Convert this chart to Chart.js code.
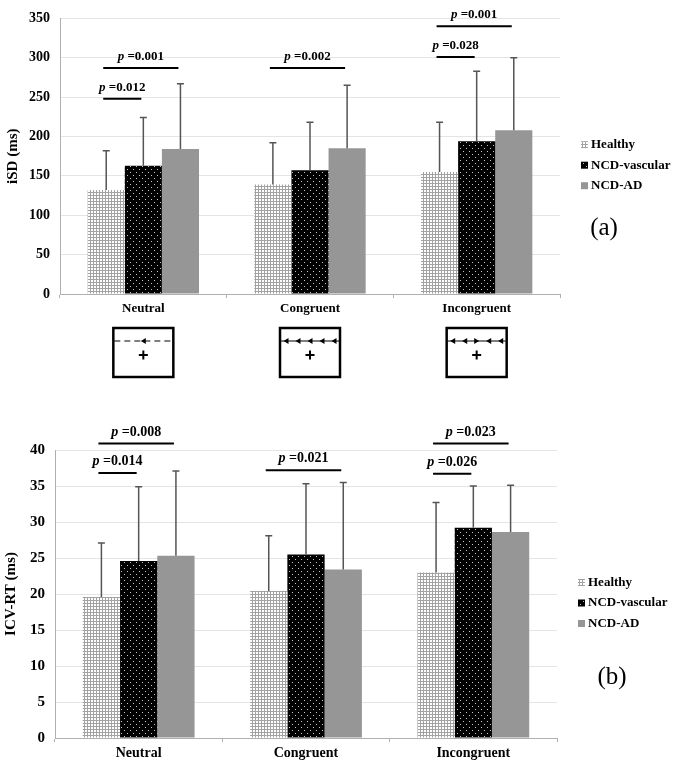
<!DOCTYPE html>
<html lang="en">
<head>
    <meta charset="UTF-8">
    <title>iSD and ICV-RT by group and condition</title>
    <script src="https://cdn.jsdelivr.net/npm/chart.js"></script>
    <style>
        body { margin: 0; background: #fff; }
        #wrap { position: relative; width: 675px; height: 762px; }
        canvas { position: absolute; left: 0; }
        #chartA { top: 0; }
        #chartB { top: 390px; }
    </style>
</head>
<body>
<div id="wrap">
    <canvas id="chartA" width="675" height="390"></canvas>
    <canvas id="chartB" width="675" height="372"></canvas>
</div>
<script>
    // ---- data ----
    const conditions = ['Neutral', 'Congruent', 'Incongruent'];
    const groups = ['Healthy', 'NCD-vascular', 'NCD-AD'];

    // (a) iSD (ms): means and SD per condition
    const isdHealthy = [132, 139, 155];
    const isdVascular = [163, 157, 194];
    const isdAD = [184, 185, 208];
    const isdHealthySD = [50, 53, 63];
    const isdVascularSD = [61, 61, 89];
    const isdADSD = [83, 80, 92];
    const isdTicks = { min: 0, max: 350, step: 50 };
    // [condition, group a, group b, bar level, p]
    const isdPairs = [
        [0, 0, 2, 287, '0.001'],
        [0, 0, 1, 248, '0.012'],
        [1, 0, 2, 287, '0.002'],
        [2, 0, 2, 340, '0.001'],
        [2, 0, 1, 301, '0.028']
    ];

    // (b) ICV-RT (ms)
    const icvHealthy = [19.6, 20.4, 23.0];
    const icvVascular = [24.6, 25.5, 29.2];
    const icvAD = [25.3, 23.4, 28.6];
    const icvHealthySD = [7.5, 7.7, 9.7];
    const icvVascularSD = [10.3, 9.8, 5.8];
    const icvADSD = [11.8, 12.1, 6.5];
    const icvTicks = { min: 0, max: 40, step: 5 };
    const icvPairs = [
        [0, 0, 2, 40.9, '0.008'],
        [0, 0, 1, 36.8, '0.014'],
        [1, 0, 2, 37.2, '0.021'],
        [2, 0, 2, 40.9, '0.023'],
        [2, 0, 1, 36.7, '0.026']
    ];

    // flanker displays under panel (a): '<' left arrow, '>' right arrow, '-' dash
    const stimuli = ['--<--', '<<<<<', '<<><<'];

    const SERIF = '"Liberation Serif", "Times New Roman", serif';
    Chart.defaults.font.family = SERIF;
    Chart.defaults.color = '#000';

    // ---- fill patterns ----
    function makePattern(size, draw) {
        const c = document.createElement('canvas');
        c.width = size; c.height = size;
        draw(c.getContext('2d'));
        return c.getContext('2d').createPattern(c, 'repeat');
    }
    const gridFill = makePattern(3, g => {
        g.fillStyle = '#fff'; g.fillRect(0, 0, 3, 3);
        g.fillStyle = '#a2a2a2'; g.fillRect(0, 0, 3, 1); g.fillRect(0, 0, 1, 3);
    });
    const dotFill = makePattern(6, g => {
        g.fillStyle = '#000'; g.fillRect(0, 0, 6, 6);
        g.fillStyle = '#c4c4c4'; g.fillRect(1, 1, 1, 1); g.fillRect(4, 4, 1, 1);
    });
    const greyFill = '#969696';

    // ---- plugins ----
    const errorBars = {
        id: 'errorBars',
        afterDatasetsDraw(chart) {
            const { ctx } = chart;
            const y = chart.scales.y;
            ctx.save();
            ctx.strokeStyle = '#555';
            ctx.lineWidth = 1.5;
            chart.data.datasets.forEach((ds, i) => {
                chart.getDatasetMeta(i).data.forEach((bar, j) => {
                    const top = y.getPixelForValue(ds.data[j] + ds.sd[j]);
                    ctx.beginPath();
                    ctx.moveTo(bar.x, bar.y);
                    ctx.lineTo(bar.x, top);
                    ctx.moveTo(bar.x - 3.5, top);
                    ctx.lineTo(bar.x + 3.5, top);
                    ctx.stroke();
                });
            });
            ctx.restore();
        }
    };

    const sigBars = {
        id: 'sigBars',
        afterDraw(chart, args, opts) {
            const { ctx } = chart;
            const y = chart.scales.y;
            const italic = 'italic bold ' + opts.size + 'px ' + SERIF;
            const bold = 'bold ' + opts.size + 'px ' + SERIF;
            ctx.save();
            opts.pairs.forEach(([c, g1, g2, level, p]) => {
                const x1 = chart.getDatasetMeta(g1).data[c].x - 3;
                const x2 = chart.getDatasetMeta(g2).data[c].x - 2;
                const yy = y.getPixelForValue(level);
                ctx.strokeStyle = '#000';
                ctx.lineWidth = 2;
                ctx.beginPath();
                ctx.moveTo(x1, yy);
                ctx.lineTo(x2, yy);
                ctx.stroke();

                ctx.fillStyle = '#000';
                ctx.textBaseline = 'alphabetic';
                ctx.font = italic;
                const w1 = ctx.measureText('p ').width;
                ctx.font = bold;
                const w2 = ctx.measureText('=' + p).width;
                const x = (x1 + x2) / 2 - (w1 + w2) / 2;
                ctx.font = italic;
                ctx.fillText('p ', x, yy - 8);
                ctx.font = bold;
                ctx.fillText('=' + p, x + w1, yy - 8);
            });
            ctx.restore();
        }
    };

    const sideLegend = {
        id: 'sideLegend',
        afterDraw(chart, args, opts) {
            const { ctx, chartArea } = chart;
            const mid = (chartArea.top + chartArea.bottom) / 2 + 9;
            const left = chartArea.right + opts.dx;
            ctx.save();
            ctx.font = 'bold 13px ' + SERIF;
            ctx.textBaseline = 'middle';
            chart.data.datasets.forEach((ds, i) => {
                const yy = mid + (i - 1) * 20.5;
                ctx.fillStyle = ds.backgroundColor;
                ctx.fillRect(left, yy - 3.5, 7, 7);
                ctx.fillStyle = '#000';
                ctx.fillText(ds.label, left + 10, yy);
            });
            ctx.font = '25px ' + SERIF;
            ctx.textAlign = 'center';
            ctx.fillText(opts.tag, opts.tagX, opts.tagY);
            ctx.restore();
        }
    };

    function arrowHead(ctx, x, y, dir) {
        ctx.beginPath();
        ctx.moveTo(x - 2.5 * dir, y);
        ctx.lineTo(x + 2.5 * dir, y - 3);
        ctx.lineTo(x + 2.5 * dir, y + 3);
        ctx.closePath();
        ctx.fill();
    }

    const stimulusIcons = {
        id: 'stimulusIcons',
        afterDraw(chart, args, opts) {
            if (!opts.items) return;
            const { ctx, chartArea } = chart;
            const xs = chart.scales.x;
            const w = 60, h = 49;
            const top = chartArea.bottom + 34;
            ctx.save();
            ctx.strokeStyle = '#000';
            ctx.fillStyle = '#000';
            opts.items.forEach((s, i) => {
                const cx = xs.getPixelForValue(i);
                const left = cx - w / 2;
                ctx.lineWidth = 2.5;
                ctx.strokeRect(left, top, w, h);

                const ly = top + 13;
                const dashed = s.indexOf('-') >= 0;
                ctx.lineWidth = 1.2;
                ctx.setLineDash(dashed ? [6, 4] : []);
                ctx.beginPath();
                ctx.moveTo(left + 1, ly);
                ctx.lineTo(left + w - 1, ly);
                ctx.stroke();
                ctx.setLineDash([]);
                s.split('').forEach((ch, k) => {
                    const px = left + 6 + k * 12;
                    if (ch === '<') arrowHead(ctx, px, ly, 1);
                    if (ch === '>') arrowHead(ctx, px, ly, -1);
                });

                const fy = top + 27;
                ctx.lineWidth = 2;
                ctx.beginPath();
                ctx.moveTo(cx - 4.5, fy); ctx.lineTo(cx + 4.5, fy);
                ctx.moveTo(cx, fy - 4.5); ctx.lineTo(cx, fy + 4.5);
                ctx.stroke();
            });
            ctx.restore();
        }
    };

    // ---- chart builder ----
    function buildChart(id, cfg) {
        const boldFont = size => ({ family: SERIF, weight: 'bold', size: size });
        return new Chart(document.getElementById(id), {
            type: 'bar',
            data: {
                labels: conditions,
                datasets: [
                    { label: groups[0], data: cfg.values[0], sd: cfg.sds[0], backgroundColor: gridFill },
                    { label: groups[1], data: cfg.values[1], sd: cfg.sds[1], backgroundColor: dotFill },
                    { label: groups[2], data: cfg.values[2], sd: cfg.sds[2], backgroundColor: greyFill }
                ]
            },
            options: {
                responsive: false,
                animation: false,
                events: [],
                layout: { padding: { top: cfg.top, right: cfg.right, left: 0, bottom: 0 } },
                datasets: { bar: { categoryPercentage: 0.668, barPercentage: 1 } },
                plugins: {
                    legend: { display: false },
                    tooltip: { enabled: false },
                    sigBars: { pairs: cfg.pairs, size: cfg.pSize },
                    sideLegend: { dx: 21, tag: cfg.tag, tagX: cfg.tagX, tagY: cfg.tagY },
                    stimulusIcons: { items: cfg.stimuli }
                },
                scales: {
                    x: {
                        grid: { offset: true, drawOnChartArea: false, tickLength: 4, color: '#b0b0b0' },
                        border: { color: '#b0b0b0' },
                        ticks: { font: boldFont(cfg.catSize), color: '#000', padding: 3 },
                        afterFit: s => { s.height = cfg.xHeight; }
                    },
                    y: {
                        min: cfg.ticks.min,
                        max: cfg.ticks.max,
                        ticks: { stepSize: cfg.ticks.step, font: boldFont(cfg.tickSize), color: '#000', padding: 10 },
                        grid: { color: '#e4e4e4', drawTicks: false },
                        border: { color: '#b0b0b0' },
                        title: {
                            display: true,
                            text: cfg.title,
                            font: boldFont(15),
                            color: '#000',
                            padding: { top: cfg.titlePad, bottom: 0 }
                        },
                        afterFit: s => { s.width = cfg.yWidth; }
                    }
                }
            },
            plugins: [errorBars, sigBars, sideLegend, stimulusIcons]
        });
    }

    buildChart('chartA', {
        values: [isdHealthy, isdVascular, isdAD],
        sds: [isdHealthySD, isdVascularSD, isdADSD],
        ticks: isdTicks,
        pairs: isdPairs,
        stimuli: stimuli,
        title: 'iSD (ms)',
        tag: '(a)', tagX: 604, tagY: 228,
        top: 11, right: 115, xHeight: 96, yWidth: 60,
        tickSize: 14, catSize: 13, pSize: 13, titlePad: 4
    });

    buildChart('chartB', {
        values: [icvHealthy, icvVascular, icvAD],
        sds: [icvHealthySD, icvVascularSD, icvADSD],
        ticks: icvTicks,
        pairs: icvPairs,
        stimuli: null,
        title: 'ICV-RT (ms)',
        tag: '(b)', tagX: 612, tagY: 287,
        top: 60, right: 118, xHeight: 24, yWidth: 55,
        tickSize: 15, catSize: 14, pSize: 14, titlePad: 2
    });
</script>
</body>
</html>
